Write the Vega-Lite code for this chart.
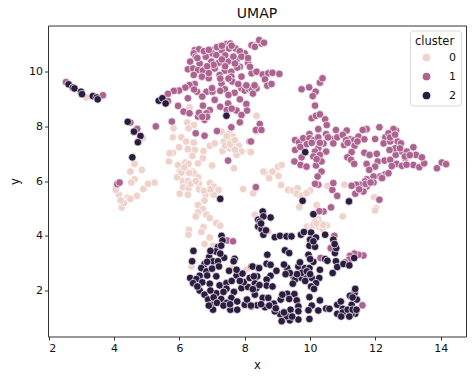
{"$schema":"https://vega.github.io/schema/vega-lite/v6.json","width":418,"height":311,"autosize":"none","padding":{"left":48,"top":25.5,"right":8,"bottom":45},"title":{"text":"UMAP","font":"DejaVu Sans","fontSize":14,"fontWeight":"normal","color":"#111","offset":5},"config":{"view":{"stroke":"#333","strokeWidth":1},"font":"DejaVu Sans"},
"data":{"values":[
{"x":3.15,"y":9.06,"c":0},{"x":4.88,"y":7.57,"c":0},{"x":5.8,"y":7.6,"c":0},{"x":5.82,"y":7.93,"c":0},{"x":6.24,"y":8.14,"c":0},{"x":6.31,"y":8.7,"c":0},{"x":6.44,"y":8.05,"c":0},{"x":6.28,"y":7.93,"c":0},{"x":6.06,"y":7.6,"c":0},{"x":6.21,"y":7.45,"c":0},{"x":5.99,"y":7.24,"c":0},{"x":5.8,"y":7.04,"c":0},{"x":5.7,"y":7.02,"c":0},{"x":5.68,"y":6.72,"c":0},{"x":5.96,"y":6.59,"c":0},{"x":6.18,"y":6.68,"c":0},{"x":6.01,"y":6.35,"c":0},{"x":6.28,"y":6.63,"c":0},{"x":5.93,"y":6.14,"c":0},{"x":6.44,"y":7.41,"c":0},{"x":6.47,"y":7.14,"c":0},{"x":6.26,"y":7.17,"c":0},{"x":6.4,"y":6.92,"c":0},{"x":6.74,"y":7.1,"c":0},{"x":6.93,"y":7.29,"c":0},{"x":7.08,"y":7.38,"c":0},{"x":6.72,"y":6.84,"c":0},{"x":6.57,"y":6.65,"c":0},{"x":7.0,"y":6.57,"c":0},{"x":6.42,"y":6.35,"c":0},{"x":6.54,"y":6.14,"c":0},{"x":7.32,"y":7.1,"c":0},{"x":7.36,"y":7.45,"c":0},{"x":7.54,"y":7.75,"c":0},{"x":7.64,"y":7.63,"c":0},{"x":7.56,"y":7.48,"c":0},{"x":7.64,"y":7.36,"c":0},{"x":7.54,"y":7.2,"c":0},{"x":7.82,"y":7.29,"c":0},{"x":7.9,"y":7.08,"c":0},{"x":7.75,"y":6.96,"c":0},{"x":8.15,"y":7.08,"c":0},{"x":7.67,"y":6.47,"c":0},{"x":8.36,"y":8.38,"c":0},{"x":8.41,"y":7.87,"c":0},{"x":7.29,"y":7.81,"c":0},{"x":4.5,"y":6.35,"c":0},{"x":4.63,"y":6.63,"c":0},{"x":4.85,"y":6.41,"c":0},{"x":4.63,"y":6.07,"c":0},{"x":4.53,"y":5.95,"c":0},{"x":5.24,"y":5.95,"c":0},{"x":5.04,"y":5.9,"c":0},{"x":4.9,"y":5.71,"c":0},{"x":4.7,"y":5.46,"c":0},{"x":4.42,"y":5.4,"c":0},{"x":4.15,"y":5.5,"c":0},{"x":4.27,"y":5.26,"c":0},{"x":4.24,"y":5.04,"c":0},{"x":4.05,"y":5.68,"c":0},{"x":6.01,"y":5.54,"c":0},{"x":6.06,"y":6.31,"c":0},{"x":6.11,"y":5.99,"c":0},{"x":6.26,"y":6.01,"c":0},{"x":6.11,"y":5.78,"c":0},{"x":6.28,"y":5.74,"c":0},{"x":6.26,"y":5.5,"c":0},{"x":6.44,"y":6.29,"c":0},{"x":6.57,"y":6.14,"c":0},{"x":6.6,"y":5.9,"c":0},{"x":6.93,"y":5.93,"c":0},{"x":7.05,"y":5.8,"c":0},{"x":7.2,"y":5.68,"c":0},{"x":7.05,"y":5.5,"c":0},{"x":6.8,"y":5.5,"c":0},{"x":6.77,"y":5.29,"c":0},{"x":6.57,"y":5.13,"c":0},{"x":6.72,"y":4.98,"c":0},{"x":6.57,"y":4.86,"c":0},{"x":6.5,"y":4.71,"c":0},{"x":6.83,"y":4.77,"c":0},{"x":6.93,"y":4.65,"c":0},{"x":7.13,"y":4.47,"c":0},{"x":7.25,"y":4.37,"c":0},{"x":6.74,"y":4.32,"c":0},{"x":6.67,"y":4.14,"c":0},{"x":6.29,"y":4.22,"c":0},{"x":6.28,"y":4.04,"c":0},{"x":6.93,"y":3.94,"c":0},{"x":6.77,"y":3.7,"c":0},{"x":7.03,"y":3.64,"c":0},{"x":6.37,"y":2.88,"c":0},{"x":7.95,"y":5.71,"c":0},{"x":8.26,"y":5.56,"c":0},{"x":8.31,"y":4.77,"c":0},{"x":8.05,"y":2.76,"c":0},{"x":7.62,"y":2.82,"c":0},{"x":8.62,"y":6.31,"c":0},{"x":8.85,"y":6.35,"c":0},{"x":9.03,"y":6.19,"c":0},{"x":8.75,"y":6.11,"c":0},{"x":9.11,"y":5.86,"c":0},{"x":9.33,"y":5.68,"c":0},{"x":9.47,"y":5.66,"c":0},{"x":9.62,"y":5.74,"c":0},{"x":9.59,"y":5.54,"c":0},{"x":9.74,"y":5.46,"c":0},{"x":10,"y":5.66,"c":0},{"x":9.89,"y":5.56,"c":0},{"x":10.53,"y":5.83,"c":0},{"x":9.67,"y":5.05,"c":0},{"x":10.2,"y":5.13,"c":0},{"x":11.05,"y":5.87,"c":0},{"x":11,"y":4.71,"c":0},{"x":11.96,"y":5.41,"c":0},{"x":12.02,"y":5.01,"c":0},{"x":11.99,"y":4.93,"c":0},{"x":10.25,"y":4.61,"c":0},{"x":10.15,"y":4.53,"c":0},{"x":10.3,"y":4.47,"c":0},{"x":10.51,"y":4.38,"c":0},{"x":9.91,"y":4.34,"c":0},{"x":10.05,"y":4.32,"c":0},{"x":10.25,"y":4.32,"c":0},{"x":10.38,"y":4.25,"c":0},{"x":8.72,"y":4.16,"c":0},{"x":8.36,"y":8.39,"c":0},{"x":8.19,"y":7.06,"c":0},{"x":8.57,"y":6.35,"c":0},{"x":9.02,"y":6.53,"c":0},{"x":9.13,"y":6.59,"c":0},{"x":8.36,"y":7.81,"c":0},{"x":6.3,"y":6.3,"c":0},{"x":6.15,"y":6.5,"c":0},{"x":6.35,"y":5.9,"c":0},{"x":6.5,"y":6.0,"c":0},{"x":6.6,"y":5.7,"c":0},{"x":6.75,"y":5.65,"c":0},{"x":6.95,"y":5.7,"c":0},{"x":7.4,"y":7.3,"c":0},{"x":7.55,"y":7.35,"c":0},{"x":7.7,"y":7.15,"c":0},{"x":7.45,"y":7.65,"c":0},{"x":7.7,"y":7.5,"c":0},{"x":10.1,"y":4.4,"c":0},{"x":10.2,"y":4.45,"c":0},{"x":10.4,"y":4.4,"c":0},{"x":4.3,"y":5.2,"c":0},{"x":4.2,"y":5.3,"c":0},{"x":4.5,"y":5.35,"c":0},
{"x":2.53,"y":9.62,"c":1},{"x":3.66,"y":9.14,"c":1},{"x":6.47,"y":10.79,"c":1},{"x":6.6,"y":10.82,"c":1},{"x":6.44,"y":10.67,"c":1},{"x":6.81,"y":10.55,"c":1},{"x":7.03,"y":10.79,"c":1},{"x":7.44,"y":11.01,"c":1},{"x":7.56,"y":11.03,"c":1},{"x":7.72,"y":10.85,"c":1},{"x":7.52,"y":10.85,"c":1},{"x":7.01,"y":10.67,"c":1},{"x":7.13,"y":10.61,"c":1},{"x":7.29,"y":10.79,"c":1},{"x":8.0,"y":10.67,"c":1},{"x":8.26,"y":10.97,"c":1},{"x":6.33,"y":10.37,"c":1},{"x":6.62,"y":10.3,"c":1},{"x":6.98,"y":10.37,"c":1},{"x":7.21,"y":10.33,"c":1},{"x":7.49,"y":10.37,"c":1},{"x":7.75,"y":10.43,"c":1},{"x":8.1,"y":10.33,"c":1},{"x":7.85,"y":10.18,"c":1},{"x":6.26,"y":10.09,"c":1},{"x":6.42,"y":10.12,"c":1},{"x":6.57,"y":10.06,"c":1},{"x":6.72,"y":10.04,"c":1},{"x":7.08,"y":10.12,"c":1},{"x":7.39,"y":10.04,"c":1},{"x":7.59,"y":10.0,"c":1},{"x":7.77,"y":10.15,"c":1},{"x":8.21,"y":9.94,"c":1},{"x":8.38,"y":10.0,"c":1},{"x":6.44,"y":9.88,"c":1},{"x":6.69,"y":9.82,"c":1},{"x":6.9,"y":9.76,"c":1},{"x":7.23,"y":9.88,"c":1},{"x":7.59,"y":9.82,"c":1},{"x":7.9,"y":9.82,"c":1},{"x":7.29,"y":9.57,"c":1},{"x":7.62,"y":9.64,"c":1},{"x":6.47,"y":9.55,"c":1},{"x":6.31,"y":9.51,"c":1},{"x":6.18,"y":9.42,"c":1},{"x":5.99,"y":9.31,"c":1},{"x":5.83,"y":9.3,"c":1},{"x":5.65,"y":9.19,"c":1},{"x":6.54,"y":9.27,"c":1},{"x":6.83,"y":9.27,"c":1},{"x":7.01,"y":9.27,"c":1},{"x":7.39,"y":9.36,"c":1},{"x":7.69,"y":9.23,"c":1},{"x":7.9,"y":9.39,"c":1},{"x":8.0,"y":9.31,"c":1},{"x":8.13,"y":9.36,"c":1},{"x":8.36,"y":9.39,"c":1},{"x":6.26,"y":9.03,"c":1},{"x":6.7,"y":9.09,"c":1},{"x":7.08,"y":8.97,"c":1},{"x":7.85,"y":8.99,"c":1},{"x":5.65,"y":8.93,"c":1},{"x":5.96,"y":8.75,"c":1},{"x":6.13,"y":8.54,"c":1},{"x":6.31,"y":8.48,"c":1},{"x":6.72,"y":8.76,"c":1},{"x":6.93,"y":8.6,"c":1},{"x":6.83,"y":8.48,"c":1},{"x":6.57,"y":8.36,"c":1},{"x":6.77,"y":8.24,"c":1},{"x":7.25,"y":8.72,"c":1},{"x":7.49,"y":8.84,"c":1},{"x":8.05,"y":8.82,"c":1},{"x":8.07,"y":8.58,"c":1},{"x":7.75,"y":8.58,"c":1},{"x":7.44,"y":8.42,"c":1},{"x":7.9,"y":8.42,"c":1},{"x":5.77,"y":8.18,"c":1},{"x":5.28,"y":8.0,"c":1},{"x":4.5,"y":8.14,"c":1},{"x":4.71,"y":7.91,"c":1},{"x":6.5,"y":7.75,"c":1},{"x":6.77,"y":7.66,"c":1},{"x":7.15,"y":7.83,"c":1},{"x":7.59,"y":7.97,"c":1},{"x":7.85,"y":8.15,"c":1},{"x":8.36,"y":7.87,"c":1},{"x":8.15,"y":7.45,"c":1},{"x":7.49,"y":6.75,"c":1},{"x":8.21,"y":10.97,"c":1},{"x":8.31,"y":10.91,"c":1},{"x":8.51,"y":11.03,"c":1},{"x":8.44,"y":11.16,"c":1},{"x":8.59,"y":11.06,"c":1},{"x":8.16,"y":10.18,"c":1},{"x":8.36,"y":10,"c":1},{"x":8.55,"y":9.9,"c":1},{"x":8.72,"y":9.94,"c":1},{"x":8.85,"y":9.96,"c":1},{"x":9.06,"y":9.92,"c":1},{"x":8.62,"y":9.72,"c":1},{"x":8.69,"y":9.49,"c":1},{"x":8.82,"y":9.55,"c":1},{"x":8.21,"y":9.36,"c":1},{"x":9.74,"y":9.36,"c":1},{"x":9.97,"y":9.43,"c":1},{"x":10.17,"y":9.27,"c":1},{"x":10.08,"y":9.11,"c":1},{"x":10.3,"y":9.6,"c":1},{"x":10.38,"y":9.76,"c":1},{"x":10.15,"y":8.76,"c":1},{"x":10.05,"y":8.3,"c":1},{"x":10.18,"y":8.39,"c":1},{"x":10.3,"y":8.44,"c":1},{"x":10.46,"y":8.26,"c":1},{"x":10.51,"y":8.05,"c":1},{"x":8.46,"y":8.09,"c":1},{"x":8.34,"y":7.87,"c":1},{"x":8.51,"y":7.87,"c":1},{"x":8.19,"y":7.45,"c":1},{"x":10.25,"y":7.9,"c":1},{"x":10.79,"y":7.87,"c":1},{"x":11.12,"y":7.85,"c":1},{"x":11.73,"y":7.9,"c":1},{"x":11.61,"y":7.87,"c":1},{"x":12.12,"y":7.97,"c":1},{"x":12.63,"y":7.85,"c":1},{"x":12.55,"y":7.9,"c":1},{"x":9.98,"y":7.72,"c":1},{"x":9.54,"y":7.5,"c":1},{"x":9.66,"y":7.42,"c":1},{"x":9.79,"y":7.57,"c":1},{"x":9.98,"y":7.57,"c":1},{"x":10.12,"y":7.5,"c":1},{"x":10.49,"y":7.72,"c":1},{"x":10.25,"y":7.6,"c":1},{"x":10.41,"y":7.38,"c":1},{"x":10.69,"y":7.53,"c":1},{"x":10.83,"y":7.6,"c":1},{"x":11.0,"y":7.69,"c":1},{"x":11.22,"y":7.53,"c":1},{"x":11.35,"y":7.5,"c":1},{"x":11.48,"y":7.63,"c":1},{"x":11.66,"y":7.53,"c":1},{"x":11.99,"y":7.54,"c":1},{"x":12.3,"y":7.6,"c":1},{"x":12.4,"y":7.75,"c":1},{"x":12.68,"y":7.45,"c":1},{"x":11.04,"y":7.32,"c":1},{"x":11.36,"y":7.29,"c":1},{"x":10.71,"y":7.38,"c":1},{"x":12.25,"y":7.38,"c":1},{"x":12.45,"y":7.45,"c":1},{"x":12.78,"y":7.38,"c":1},{"x":9.54,"y":7.14,"c":1},{"x":10.25,"y":7.2,"c":1},{"x":10.49,"y":7.08,"c":1},{"x":10.15,"y":7.08,"c":1},{"x":10.3,"y":6.96,"c":1},{"x":9.74,"y":6.87,"c":1},{"x":9.52,"y":6.72,"c":1},{"x":9.71,"y":6.59,"c":1},{"x":9.89,"y":6.53,"c":1},{"x":10.18,"y":6.57,"c":1},{"x":10.35,"y":6.35,"c":1},{"x":10.23,"y":6.17,"c":1},{"x":10.35,"y":6.72,"c":1},{"x":11.27,"y":7.06,"c":1},{"x":11.14,"y":6.87,"c":1},{"x":11.25,"y":6.78,"c":1},{"x":11.35,"y":6.63,"c":1},{"x":11.66,"y":7.04,"c":1},{"x":11.82,"y":6.96,"c":1},{"x":12.04,"y":7.0,"c":1},{"x":12.07,"y":6.72,"c":1},{"x":11.73,"y":6.63,"c":1},{"x":11.99,"y":6.53,"c":1},{"x":11.81,"y":6.41,"c":1},{"x":12.28,"y":6.75,"c":1},{"x":12.45,"y":6.78,"c":1},{"x":12.62,"y":6.96,"c":1},{"x":12.65,"y":6.63,"c":1},{"x":12.81,"y":7.08,"c":1},{"x":12.96,"y":7.08,"c":1},{"x":13.16,"y":7.24,"c":1},{"x":13.24,"y":6.96,"c":1},{"x":12.91,"y":6.84,"c":1},{"x":12.81,"y":6.56,"c":1},{"x":13.16,"y":6.59,"c":1},{"x":13.34,"y":6.51,"c":1},{"x":13.49,"y":6.65,"c":1},{"x":13.42,"y":6.87,"c":1},{"x":12.6,"y":7.2,"c":1},{"x":12.43,"y":7.14,"c":1},{"x":13.88,"y":6.47,"c":1},{"x":14.03,"y":6.68,"c":1},{"x":14.16,"y":6.62,"c":1},{"x":12.3,"y":6.25,"c":1},{"x":12.4,"y":6.29,"c":1},{"x":12.14,"y":6.17,"c":1},{"x":11.94,"y":6.17,"c":1},{"x":11.73,"y":6.07,"c":1},{"x":12.2,"y":6.11,"c":1},{"x":11.94,"y":5.95,"c":1},{"x":11.73,"y":5.8,"c":1},{"x":11.6,"y":5.71,"c":1},{"x":11.68,"y":5.99,"c":1},{"x":11.53,"y":5.87,"c":1},{"x":11.41,"y":5.87,"c":1},{"x":11.27,"y":5.83,"c":1},{"x":11.38,"y":5.54,"c":1},{"x":11.63,"y":5.62,"c":1},{"x":12.12,"y":5.32,"c":1},{"x":10.25,"y":5.87,"c":1},{"x":10.15,"y":5.9,"c":1},{"x":10.68,"y":5.68,"c":1},{"x":10.83,"y":5.46,"c":1},{"x":10.71,"y":5.93,"c":1},{"x":10.64,"y":5.04,"c":1},{"x":10.41,"y":4.89,"c":1},{"x":10.28,"y":4.9,"c":1},{"x":8.34,"y":5.78,"c":1},{"x":10.74,"y":4.0,"c":1},{"x":10.63,"y":3.55,"c":1},{"x":11.63,"y":3.28,"c":1},{"x":11.48,"y":3.31,"c":1},{"x":11.35,"y":3.35,"c":1},{"x":11.22,"y":3.27,"c":1},{"x":11.19,"y":3.13,"c":1},{"x":11.07,"y":3.03,"c":1},{"x":10.32,"y":3.19,"c":1},{"x":11.6,"y":1.46,"c":1},{"x":4.1,"y":5.89,"c":1},{"x":4.17,"y":5.95,"c":1},{"x":7.46,"y":3.83,"c":1},{"x":7.64,"y":3.8,"c":1},{"x":6.5,"y":10.55,"c":1},{"x":6.75,"y":10.75,"c":1},{"x":6.9,"y":10.8,"c":1},{"x":7.15,"y":10.9,"c":1},{"x":7.3,"y":10.95,"c":1},{"x":7.6,"y":10.95,"c":1},{"x":7.85,"y":10.75,"c":1},{"x":7.4,"y":10.6,"c":1},{"x":7.65,"y":10.55,"c":1},{"x":7.3,"y":10.45,"c":1},{"x":7.05,"y":10.25,"c":1},{"x":6.85,"y":10.2,"c":1},{"x":6.55,"y":10.5,"c":1},{"x":7.4,"y":10.2,"c":1},{"x":7.7,"y":10.3,"c":1},{"x":7.9,"y":10.55,"c":1},{"x":8.1,"y":10.5,"c":1},{"x":7.5,"y":9.75,"c":1},{"x":7.25,"y":9.75,"c":1},{"x":6.9,"y":9.95,"c":1},{"x":7.0,"y":9.4,"c":1},{"x":7.25,"y":9.3,"c":1},{"x":7.5,"y":9.15,"c":1},{"x":7.8,"y":9.55,"c":1},{"x":8.05,"y":9.5,"c":1},{"x":8.25,"y":9.2,"c":1},{"x":6.45,"y":9.35,"c":1},{"x":6.6,"y":8.5,"c":1},{"x":6.85,"y":8.35,"c":1},{"x":7.45,"y":8.6,"c":1},{"x":7.6,"y":8.65,"c":1},{"x":6.7,"y":8.35,"c":1},{"x":8.3,"y":9.5,"c":1},{"x":9.7,"y":7.25,"c":1},{"x":9.9,"y":7.35,"c":1},{"x":10.05,"y":7.4,"c":1},{"x":10.3,"y":7.4,"c":1},{"x":10.55,"y":7.6,"c":1},{"x":11.1,"y":7.5,"c":1},{"x":11.15,"y":7.4,"c":1},{"x":11.45,"y":7.45,"c":1},{"x":12.45,"y":7.6,"c":1},{"x":12.6,"y":7.7,"c":1},{"x":12.75,"y":7.2,"c":1},{"x":12.9,"y":6.9,"c":1},{"x":13.05,"y":6.95,"c":1},{"x":12.95,"y":6.6,"c":1},{"x":12.5,"y":6.55,"c":1},{"x":10.1,"y":6.9,"c":1},{"x":10.2,"y":6.8,"c":1},{"x":11.7,"y":5.9,"c":1},{"x":11.85,"y":5.95,"c":1},{"x":11.5,"y":5.7,"c":1},
{"x":2.61,"y":9.54,"c":2},{"x":2.74,"y":9.42,"c":2},{"x":2.79,"y":9.39,"c":2},{"x":2.99,"y":9.27,"c":2},{"x":3.02,"y":9.18,"c":2},{"x":3.35,"y":9.11,"c":2},{"x":3.47,"y":9.06,"c":2},{"x":3.5,"y":8.99,"c":2},{"x":5.37,"y":8.94,"c":2},{"x":5.48,"y":9.03,"c":2},{"x":5.58,"y":8.84,"c":2},{"x":4.42,"y":8.17,"c":2},{"x":4.61,"y":7.81,"c":2},{"x":4.81,"y":7.65,"c":2},{"x":4.73,"y":7.42,"c":2},{"x":4.56,"y":6.87,"c":2},{"x":7.44,"y":8.39,"c":2},{"x":9.77,"y":5.28,"c":2},{"x":11.19,"y":5.26,"c":2},{"x":10.1,"y":4.79,"c":2},{"x":9.85,"y":7.06,"c":2},{"x":7.25,"y":5.35,"c":2},{"x":7.29,"y":4.0,"c":2},{"x":7.32,"y":3.83,"c":2},{"x":7.18,"y":3.59,"c":2},{"x":7.11,"y":3.43,"c":2},{"x":7.28,"y":3.64,"c":2},{"x":6.43,"y":3.45,"c":2},{"x":6.39,"y":3.07,"c":2},{"x":7.37,"y":3.2,"c":2},{"x":6.91,"y":3.22,"c":2},{"x":7.03,"y":3.07,"c":2},{"x":7.18,"y":3.07,"c":2},{"x":7.21,"y":2.88,"c":2},{"x":6.77,"y":2.97,"c":2},{"x":6.67,"y":2.82,"c":2},{"x":6.83,"y":2.7,"c":2},{"x":6.62,"y":2.54,"c":2},{"x":6.33,"y":2.46,"c":2},{"x":6.52,"y":2.42,"c":2},{"x":6.42,"y":2.27,"c":2},{"x":7.13,"y":2.52,"c":2},{"x":6.93,"y":2.25,"c":2},{"x":6.62,"y":2.0,"c":2},{"x":6.77,"y":1.85,"c":2},{"x":7.23,"y":2.19,"c":2},{"x":7.44,"y":2.27,"c":2},{"x":7.44,"y":2.07,"c":2},{"x":7.67,"y":1.95,"c":2},{"x":7.13,"y":1.9,"c":2},{"x":7.28,"y":1.69,"c":2},{"x":6.88,"y":1.67,"c":2},{"x":7.0,"y":1.48,"c":2},{"x":7.03,"y":1.3,"c":2},{"x":7.59,"y":1.73,"c":2},{"x":7.77,"y":1.6,"c":2},{"x":7.56,"y":1.3,"c":2},{"x":7.77,"y":1.3,"c":2},{"x":8.0,"y":1.48,"c":2},{"x":8.2,"y":1.42,"c":2},{"x":8.38,"y":1.46,"c":2},{"x":8.07,"y":1.67,"c":2},{"x":8.31,"y":1.85,"c":2},{"x":7.9,"y":2.09,"c":2},{"x":8.1,"y":2.13,"c":2},{"x":8.31,"y":2.27,"c":2},{"x":7.97,"y":2.31,"c":2},{"x":7.75,"y":2.55,"c":2},{"x":7.93,"y":2.62,"c":2},{"x":7.52,"y":2.72,"c":2},{"x":7.75,"y":2.76,"c":2},{"x":8.21,"y":2.88,"c":2},{"x":8.41,"y":2.82,"c":2},{"x":8.38,"y":2.52,"c":2},{"x":8.15,"y":2.46,"c":2},{"x":7.69,"y":3.16,"c":2},{"x":7.66,"y":3.07,"c":2},{"x":8.41,"y":4.59,"c":2},{"x":8.41,"y":4.34,"c":2},{"x":8.55,"y":4.89,"c":2},{"x":8.79,"y":4.67,"c":2},{"x":8.57,"y":4.71,"c":2},{"x":8.46,"y":4.52,"c":2},{"x":8.51,"y":4.25,"c":2},{"x":8.57,"y":4.04,"c":2},{"x":8.92,"y":3.95,"c":2},{"x":9.08,"y":4.0,"c":2},{"x":9.28,"y":3.98,"c":2},{"x":9.43,"y":3.98,"c":2},{"x":9.72,"y":4.04,"c":2},{"x":9.81,"y":4.14,"c":2},{"x":10.03,"y":4.12,"c":2},{"x":10.18,"y":3.94,"c":2},{"x":10.46,"y":4.04,"c":2},{"x":10,"y":3.86,"c":2},{"x":9.98,"y":3.64,"c":2},{"x":9.95,"y":3.31,"c":2},{"x":10.71,"y":3.86,"c":2},{"x":10.76,"y":3.37,"c":2},{"x":9.23,"y":3.47,"c":2},{"x":9.36,"y":3.37,"c":2},{"x":8.69,"y":3.31,"c":2},{"x":8.67,"y":2.98,"c":2},{"x":8.79,"y":2.94,"c":2},{"x":8.24,"y":2.88,"c":2},{"x":8.44,"y":2.82,"c":2},{"x":9.3,"y":2.82,"c":2},{"x":8.97,"y":2.72,"c":2},{"x":8.79,"y":2.54,"c":2},{"x":8.67,"y":2.4,"c":2},{"x":8.28,"y":2.52,"c":2},{"x":8.36,"y":2.09,"c":2},{"x":8.67,"y":2.18,"c":2},{"x":8.85,"y":2.15,"c":2},{"x":8.55,"y":1.73,"c":2},{"x":8.72,"y":1.73,"c":2},{"x":8.89,"y":1.52,"c":2},{"x":9.1,"y":1.67,"c":2},{"x":9.3,"y":1.88,"c":2},{"x":9.52,"y":1.87,"c":2},{"x":9.36,"y":1.69,"c":2},{"x":9.59,"y":1.64,"c":2},{"x":9.64,"y":1.42,"c":2},{"x":9.4,"y":1.3,"c":2},{"x":9.64,"y":0.94,"c":2},{"x":9.38,"y":0.91,"c":2},{"x":9.28,"y":1.06,"c":2},{"x":9.08,"y":1.14,"c":2},{"x":9.13,"y":0.88,"c":2},{"x":8.92,"y":1.24,"c":2},{"x":8.62,"y":1.39,"c":2},{"x":8.19,"y":1.45,"c":2},{"x":9.49,"y":2.52,"c":2},{"x":9.38,"y":2.64,"c":2},{"x":9.54,"y":2.4,"c":2},{"x":9.47,"y":2.25,"c":2},{"x":9.64,"y":2.88,"c":2},{"x":9.84,"y":2.82,"c":2},{"x":9.69,"y":3.03,"c":2},{"x":9.98,"y":2.82,"c":2},{"x":10.3,"y":2.76,"c":2},{"x":9.74,"y":2.46,"c":2},{"x":9.9,"y":2.5,"c":2},{"x":10.05,"y":2.46,"c":2},{"x":10.28,"y":2.46,"c":2},{"x":10.18,"y":2.27,"c":2},{"x":10.03,"y":2.15,"c":2},{"x":10.12,"y":2.06,"c":2},{"x":9.98,"y":1.76,"c":2},{"x":10.3,"y":1.64,"c":2},{"x":10.05,"y":1.45,"c":2},{"x":9.95,"y":1.28,"c":2},{"x":9.98,"y":0.96,"c":2},{"x":10.25,"y":1.27,"c":2},{"x":10.49,"y":1.34,"c":2},{"x":10.59,"y":1.33,"c":2},{"x":10.83,"y":1.48,"c":2},{"x":10.94,"y":1.6,"c":2},{"x":11.27,"y":1.48,"c":2},{"x":11,"y":1.33,"c":2},{"x":10.83,"y":1.15,"c":2},{"x":11.12,"y":1.15,"c":2},{"x":11.38,"y":1.15,"c":2},{"x":11.27,"y":1.15,"c":2},{"x":11.36,"y":1.91,"c":2},{"x":11.22,"y":1.81,"c":2},{"x":11.38,"y":2.06,"c":2},{"x":11.43,"y":1.67,"c":2},{"x":10.46,"y":3.15,"c":2},{"x":10.53,"y":3.09,"c":2},{"x":10.79,"y":3.07,"c":2},{"x":10.83,"y":2.86,"c":2},{"x":10.69,"y":2.64,"c":2},{"x":11.02,"y":2.97,"c":2},{"x":11.2,"y":2.92,"c":2},{"x":11.35,"y":3.19,"c":2},{"x":9.64,"y":1.24,"c":2},{"x":6.7,"y":2.3,"c":2},{"x":6.55,"y":2.15,"c":2},{"x":6.85,"y":2.55,"c":2},{"x":6.95,"y":2.0,"c":2},{"x":7.05,"y":1.75,"c":2},{"x":7.15,"y":1.55,"c":2},{"x":6.9,"y":1.45,"c":2},{"x":7.35,"y":1.95,"c":2},{"x":7.45,"y":1.55,"c":2},{"x":7.35,"y":1.45,"c":2},{"x":7.6,"y":2.35,"c":2},{"x":7.85,"y":2.35,"c":2},{"x":7.55,"y":1.5,"c":2},{"x":8.25,"y":2.05,"c":2},{"x":8.45,"y":2.2,"c":2},{"x":8.5,"y":1.5,"c":2},{"x":8.75,"y":1.45,"c":2},{"x":8.95,"y":1.35,"c":2},{"x":9.2,"y":1.2,"c":2},{"x":9.45,"y":1.05,"c":2},{"x":9.75,"y":2.65,"c":2},{"x":9.6,"y":2.6,"c":2},{"x":9.9,"y":2.7,"c":2},{"x":9.85,"y":2.35,"c":2},{"x":10.0,"y":2.6,"c":2},{"x":10.1,"y":3.05,"c":2},{"x":10.0,"y":3.15,"c":2},{"x":9.2,"y":2.95,"c":2},{"x":9.25,"y":2.6,"c":2},{"x":9.15,"y":1.85,"c":2},{"x":11.0,"y":1.2,"c":2},{"x":11.15,"y":1.3,"c":2},{"x":11.3,"y":1.3,"c":2},{"x":10.95,"y":1.05,"c":2},{"x":11.2,"y":1.05,"c":2},{"x":11.42,"y":1.3,"c":2},{"x":11.3,"y":1.75,"c":2},{"x":10.15,"y":3.6,"c":2},{"x":10.1,"y":3.8,"c":2},{"x":10.8,"y":3.55,"c":2},{"x":10.75,"y":3.7,"c":2},{"x":8.5,"y":4.45,"c":2},{"x":8.65,"y":4.2,"c":2},{"x":6.95,"y":3.45,"c":2},{"x":7.25,"y":3.35,"c":2},{"x":7.0,"y":2.8,"c":2},{"x":6.85,"y":3.05,"c":2}
]},
"mark":{"type":"point","filled":true,"opacity":1,"stroke":"#ffffff","strokeWidth":0.7,"size":58},
"encoding":{
"x":{"field":"x","type":"quantitative","title":"x","scale":{"domain":[1.98,14.77],"nice":false,"zero":false},"axis":{"values":[2,4,6,8,10,12,14],"grid":false,"domain":false,"tickColor":"#333","tickSize":3.5,"labelColor":"#111","labelFontSize":11,"labelFont":"DejaVu Sans","titleFont":"DejaVu Sans","titleFontSize":11.5,"titleFontWeight":"normal","titleColor":"#111","titlePadding":6}},
"y":{"field":"y","type":"quantitative","title":"y","scale":{"domain":[0.32,11.69],"nice":false,"zero":false},"axis":{"values":[2,4,6,8,10],"grid":false,"domain":false,"tickColor":"#333","tickSize":3.5,"labelColor":"#111","labelFontSize":11,"labelFont":"DejaVu Sans","titleFont":"DejaVu Sans","titleFontSize":11.5,"titleFontWeight":"normal","titleColor":"#111","titlePadding":8}},
"color":{"field":"c","type":"nominal","title":"cluster","scale":{"domain":[0,1,2],"range":["#eed2cb","#ad6390","#2c1c3f"]},"legend":{"orient":"none","legendX":362,"legendY":5,"fillColor":"#ffffff","strokeColor":"#d8d8d8","cornerRadius":3,"padding":5,"titleFontWeight":"normal","titleFont":"DejaVu Sans","titleFontSize":11.5,"titleColor":"#111","labelFont":"DejaVu Sans","labelFontSize":11,"labelColor":"#111","labelOffset":17,"symbolType":"circle","symbolSize":60,"symbolStrokeWidth":0,"symbolOffset":6,"rowPadding":7,"offset":0}},
"order":{"field":"c","type":"ordinal"}
}}
